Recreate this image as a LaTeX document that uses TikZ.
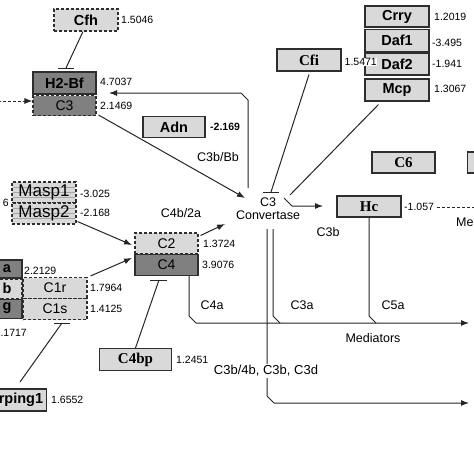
\documentclass[tikz,border=0pt]{standalone}
\usepackage{fontspec}
\setmainfont{Liberation Sans}
\newfontfamily\serifbf{Liberation Serif}
\usetikzlibrary{arrows.meta}
\definecolor{lg}{gray}{0.85}
\definecolor{dg}{gray}{0.50}
\definecolor{bd}{gray}{0.18}
\tikzset{
  boxb/.style={draw=bd, line width=1.1pt, fill=lg, inner sep=0pt, font=\bfseries\fontsize{14.5}{15}\selectfont},
  boxr/.style={draw=bd, line width=1.1pt, fill=lg, inner sep=0pt, font=\fontsize{14}{15}\selectfont},
  boxs/.style={draw=bd, line width=1.1pt, fill=lg, inner sep=0pt, font=\serifbf\bfseries\fontsize{15}{16}\selectfont},
  dsh/.style={dash pattern=on 3pt off 2pt},
  dark/.style={fill=dg},
  num/.style={anchor=west, inner sep=0pt, font=\fontsize{10.5}{12}\selectfont},
  lab/.style={inner sep=1pt, font=\fontsize{12.5}{14}\selectfont},
  ln/.style={line width=1pt, draw=black!85},
  arr/.style={ln, -{Latex[length=8pt,width=6pt]}},
  hatch/.style={draw=gray!70, line width=0.5pt}
}
\begin{document}
\begin{tikzpicture}[x=1pt,y=-1pt]
\useasboundingbox (0,0) rectangle (474,474);
\clip (0,0) rectangle (474,474);
\fill[white] (0,0) rectangle (474,474);

% ---------- top left: Cfh, H2-Bf, C3 ----------
\node[boxb,dsh,minimum width=64pt,minimum height=22pt] (cfh) at (86,20) {Cfh};
\node[num] (ncfh) at (121,20) {1.5046};
\node[boxb,dark,minimum width=63pt,minimum height=22pt] (h2bf) at (64.5,83) {H2-Bf};
\node[boxr,dark,dsh,minimum width=63pt,minimum height=20pt] (c3) at (64.5,105.5) {C3};
\node[num] (nh2bf) at (100,82) {4.7037};
\node[num] (nc3) at (100,106) {2.1469};

\node[boxb,minimum width=62pt,minimum height=21pt] (adn) at (174,127) {Adn};
\node[num,font=\bfseries\fontsize{10.5}{12}\selectfont] (nadn) at (210,127) {-2.169};

% ---------- top right: Cfi, Crry, Daf, Mcp ----------
\node[boxs,minimum width=64pt,minimum height=22pt] (cfi) at (309,60) {Cfi};
\node[boxb,minimum width=64pt,minimum height=21pt] (crry) at (397,16.5) {Crry};
\node[boxb,minimum width=64pt,minimum height=22pt] (daf1) at (397,40.5) {Daf1};
\node[boxb,minimum width=64pt,minimum height=22pt] (daf2) at (397,64) {Daf2};
\node[boxb,minimum width=64pt,minimum height=22pt] (mcp) at (397,90) {Mcp};
\node[num,fill=white,inner sep=0.5pt] (ncfi) at (344,62) {1.5471};
\node[num] (ncrry) at (434,17) {1.2019};
\node[num] (ndaf1) at (432,43) {-3.495};
\node[num] (ndaf2) at (432,64) {-1.941};
\node[num] (nmcp) at (434,89) {1.3067};

% ---------- C3 convertase ----------
\node[lab,align=center,inner sep=0pt] (conv) at (268,209) {C3\\[-1pt]Convertase};

% ---------- C6, Hc ----------
\node[boxs,minimum width=63pt,minimum height=21pt] (c6) at (403.5,162.5) {C6};
\draw[draw=bd, line width=1.1pt, fill=lg] (467.5,152) rectangle (490,173);
\node[boxs,minimum width=64pt,minimum height=21pt] (hc) at (369,206.5) {Hc};
\node[num] (nhc) at (404,207) {-1.057};
\coordinate (hcE) at (476,207);
\draw[ln,dsh] (nhc.east) ++(3,0) -- (hcE);
\node[lab,anchor=west] (me) at (455,222) {Me};
\node[lab] (lc3b) at (328,232) {C3b};

% ---------- Masp ----------
\node[boxr,dsh,minimum width=64pt,minimum height=21pt] (masp1) at (44,192.5) {};
\node[boxr,dsh,minimum width=64pt,minimum height=21pt] (masp2) at (44,213.5) {};
\foreach \yy in {187,192,197,208,213,218}{\draw[hatch] (13,\yy) -- (75,\yy);}
\node[inner sep=0pt,font=\fontsize{17}{18}\selectfont] (tmasp1) at (masp1) {Masp1};
\node[inner sep=0pt,font=\fontsize{17}{18}\selectfont] (tmasp2) at (masp2) {Masp2};
\node[num] (nmasp1) at (80,194) {-3.025};
\node[num] (nmasp2) at (80,213) {-2.168};
\node[num,anchor=east] (nsix) at (9,203) {6};

% ---------- C2, C4 ----------
\node[boxr,dsh,minimum width=63pt,minimum height=21pt] (c2) at (166.5,243.5) {C2};
\node[boxr,dark,minimum width=63pt,minimum height=21pt] (c4) at (166.5,265) {C4};
\node[num] (nc2) at (203,244) {1.3724};
\node[num] (nc4) at (202,265) {3.9076};
\node[lab] (lc4b) at (181,213) {C4b/2a};

% ---------- C1q, C1r, C1s ----------
\draw[draw=bd, line width=1.1pt, fill=dg] (-10,260) rectangle (22,278);
\draw[draw=bd, line width=1.1pt, fill=lg, dsh] (-10,279) rectangle (22,298.5);
\draw[draw=bd, line width=1.1pt, fill=dg] (-10,299.5) rectangle (22,318.5);
\node[inner sep=0pt,font=\bfseries\fontsize{14.5}{15}\selectfont] (qa) at (7,269) {a};
\node[inner sep=0pt,font=\bfseries\fontsize{14.5}{15}\selectfont] (qb) at (7,288.5) {b};
\node[inner sep=0pt,font=\bfseries\fontsize{14.5}{15}\selectfont] (qg) at (7,308) {g};
\node[boxr,dsh,minimum width=64pt,minimum height=21pt] (c1r) at (55,288) {C1r};
\node[boxr,dsh,minimum width=64pt,minimum height=21pt] (c1s) at (55,309) {C1s};
\node[num] (nqa) at (24,271) {2.2129};
\node[num] (nc1r) at (90,288) {1.7964};
\node[num] (nc1s) at (90,309) {1.4125};
\node[num,anchor=east] (nqg) at (27,333) {.1717};

% ---------- Serping1, C4bp ----------
\draw[draw=bd, line width=1.1pt, fill=lg] (-10,389) rectangle (46.5,411);
\node[inner sep=0pt,font=\bfseries\fontsize{14.5}{15}\selectfont] (serp) at (21,400) {rping1};
\node[num] (nserp) at (51,400) {1.6552};
\node[boxs,minimum width=72pt,minimum height=22pt] (c4bp) at (135.5,359.5) {C4bp};
\node[num] (nc4bp) at (176,360) {1.2451};

% ---------- labels on paths ----------
\node[lab] (lc3bb) at (218,157) {C3b/Bb};
\node[lab] (lc4a) at (212,305) {C4a};
\node[lab] (lc3a) at (302,305) {C3a};
\node[lab] (lc5a) at (393,305) {C5a};
\node[lab] (lmed) at (373,338) {Mediators};

% ---------- coordinates ----------
\coordinate (inL) at (-2,101);
\coordinate (cfhT) at (66,68);
\coordinate (fbA) at (248,188);
\coordinate (fbB) at (248,100);
\coordinate (fbC) at (241,93);
\coordinate (fbT) at (109,93);
\coordinate (convIn) at (245,198);
\coordinate (cfiT) at (271,192);
\coordinate (mcpT) at (290,195);
\coordinate (outA) at (284,198);
\coordinate (outB) at (292,206);
\coordinate (hcIn) at (323,206);
\coordinate (c2out) at (225,224);
\coordinate (c4in1) at (132,245);
\coordinate (c4in2) at (132,258);
\coordinate (c1sT) at (62,323);
\coordinate (c4T) at (159,280);
\coordinate (m1) at (189,316);
\coordinate (m2) at (196,323);
\coordinate (medE) at (469,323);
\coordinate (b1) at (273,316);
\coordinate (b2) at (280,323);
\coordinate (h1) at (369,316);
\coordinate (h2) at (376,323);
\coordinate (a1) at (267,396);
\coordinate (a2) at (274,403);
\coordinate (botE) at (469,403);

% ---------- connectors ----------
\draw[arr,dsh] (inL) -- (c3.west |- inL);
\draw[ln] (cfh.south -| 83,0) -- (cfhT);
\draw[ln] (58,68) -- (74,68);
\draw[arr] (fbA) -- (fbB) -- (fbC) -- (fbT);
\draw[arr] (c3.south east) ++(2,-1) -- (convIn);
\draw[ln] (cfi.south) ++(0,3) -- (cfiT);
\draw[ln] (263,192) -- (279,192);
\draw[ln] (mcp.south west) ++(14,3) -- (mcpT);
\draw[arr] (outA) -- (outB) -- (hcIn);
\draw[arr] (masp2.south east) ++(1,-3) -- (c4in1);
\draw[arr] (c2.north east) ++(2,3) -- (c2out);
\draw[arr] (c1r.north east) ++(3,-1) -- (c4in2);
\draw[ln] (serp.north) ++(-1,-11) -- (c1sT);
\draw[ln] (54,323) -- (70,323);
\draw[ln] (c4bp.north) -- (c4T);
\draw[ln] (150,280) -- (167,280);
\draw[arr] (c4.south -| 189,0) -- (m1) -- (m2) -- (medE);
\draw[ln] (273,229) -- (b1) -- (b2);
\draw[ln] (hc.south) -- (h1) -- (h2);
\draw[arr] (267,229) -- (a1) -- (a2) -- (botE);
\node[lab,fill=white,inner sep=1pt,font=\fontsize{13}{14}\selectfont] (lbot) at (266,371) {C3b/4b, C3b, C3d};
\end{tikzpicture}
\end{document}
